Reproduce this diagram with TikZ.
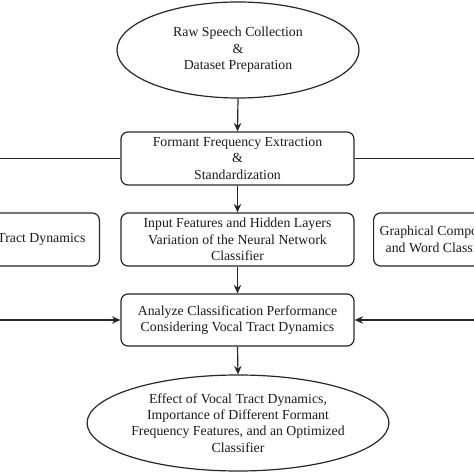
\documentclass[tikz,border=0pt]{standalone}
\usepackage{fontspec}
\setmainfont{Liberation Serif}
\usetikzlibrary{arrows.meta,shapes.geometric}
\begin{document}
\begin{tikzpicture}[x=1pt,y=1pt,
  every node/.style={font=\fontsize{13.8}{16.4}\selectfont, align=center, text=black!90},
  line/.style={draw=black!85, line width=1.2pt},
  arr/.style={line, -{Stealth[length=8.5pt,width=7.5pt]}},
  oval/.style={ellipse, draw=black!85, line width=1.2pt, minimum width=242pt, minimum height=96pt, inner sep=0pt},
  rbox/.style={rectangle, rounded corners=7pt, draw=black!85, line width=1.2pt, minimum height=53pt}
]
\useasboundingbox (0,0) rectangle (474,474);
\clip (0,0) rectangle (474,474);
\node[oval] (raw) at (238,424) {Raw Speech Collection\\\&\\Dataset Preparation};
\node[rbox, minimum width=233pt] (fmt) at (237.5,315.5) {Formant Frequency Extraction\\\&\\Standardization};
\node[rbox, minimum width=233pt] (nn) at (237.5,234.5) {Input Features and Hidden Layers\\Variation of the Neural Network\\Classifier};
\node[rbox, anchor=east, inner xsep=14pt] (vtd) at (100,234.5) {Vocal Tract Dynamics};
\node[rbox, anchor=west, inner xsep=6pt] (gc) at (373,234.5) {Graphical Components\\and Word Classifiers};
\node[rbox, minimum width=233pt, minimum height=52pt] (ana) at (237.5,154) {Analyze Classification Performance\\Considering Vocal Tract Dynamics};
\node[oval] (res) at (238,51) {Effect of Vocal Tract Dynamics,\\Importance of Different Formant\\Frequency Features, and an Optimized\\Classifier};
\coordinate (fl) at (0,315.5);
\coordinate (fr) at (474,315.5);
\coordinate (al) at (0,154);
\coordinate (ar) at (474,154);
\draw[arr] (raw.south) -- (fmt.north);
\draw[arr] (fmt.south) -- (nn.north);
\draw[arr] (nn.south) -- (ana.north);
\draw[arr] (ana.south) -- (res.north);
\draw[line] (fmt.west) -- (fl);
\draw[line] (fmt.east) -- (fr);
\draw[arr] (al) -- (ana.west);
\draw[arr] (ar) -- (ana.east);
\end{tikzpicture}
\end{document}
